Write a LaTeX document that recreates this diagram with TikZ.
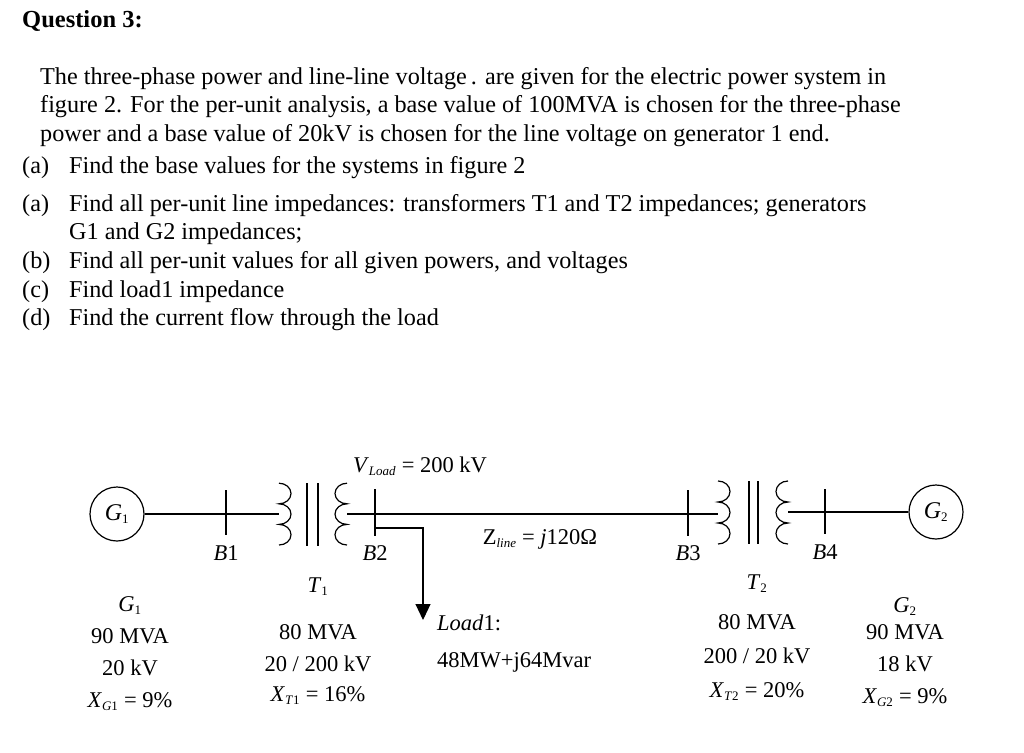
\documentclass[tikz,border=0pt]{standalone}
\usepackage{fontspec}
\setmainfont{Liberation Serif}
\usetikzlibrary{arrows.meta}
\newcommand{\ls}[2]{\textit{#1}\textsubscript{\fontsize{13}{13}\selectfont #2}}
\begin{document}
\begin{tikzpicture}[x=1pt,y=-1pt,
  txt/.style={anchor=base west,inner sep=0,font=\fontsize{24.2}{28}\selectfont},
  ctr/.style={anchor=base,inner sep=0,font=\fontsize{22.5}{26}\selectfont},
  gen/.style={draw,circle,line width=1.2pt,minimum size=54pt,inner sep=0,font=\fontsize{24}{26}\selectfont},
  bus/.style={line width=2.4pt},
  wire/.style={line width=1.1pt},
  coil/.style={line width=1.2pt}]
\useasboundingbox (0,0) rectangle (1024,752);
% text
\node[txt,font=\fontsize{24.5}{28}\selectfont\bfseries] (q) at (22,28) {Question 3:};
\node[txt] (l1) at (40,84) {The three-phase power and line-line voltage\,. are given for the electric power system in};
\node[txt] (l2) at (40,112) {figure 2. For the per-unit analysis, a base value of 100MVA is chosen for the three-phase};
\node[txt] (l3) at (40,141) {power and a base value of 20kV is chosen for the line voltage on generator 1 end.};
\node[txt] (a1l) at (22,173) {(a)};
\node[txt] (a1) at (69,173) {Find the base values for the systems in figure 2};
\node[txt] (a2l) at (22,211) {(a)};
\node[txt] (a2) at (69,211) {Find all per-unit line impedances: transformers T1 and T2 impedances; generators};
\node[txt] (a2b) at (69,239) {G1 and G2 impedances;};
\node[txt] (bl) at (22,268) {(b)};
\node[txt] (b) at (69,268) {Find all per-unit values for all given powers, and voltages};
\node[txt] (cl) at (22,297) {(c)};
\node[txt] (c) at (69,297) {Find load1 impedance};
\node[txt] (dl) at (22,325) {(d)};
\node[txt] (d) at (69,325) {Find the current flow through the load};
% generators
\node[gen] (G1) at (117,514) {\ls{G}{1}};
\node[gen] (G2) at (936,512) {\ls{G}{2}};
% buses
\coordinate (b1t) at (226,490); \coordinate (b1b) at (226,535);
\coordinate (b2t) at (375,489); \coordinate (b2b) at (375,536);
\coordinate (b3t) at (688,490); \coordinate (b3b) at (688,536);
\coordinate (b4t) at (825,489); \coordinate (b4b) at (825,534);
\draw[bus] (b1t) -- (b1b); \draw[bus] (b2t) -- (b2b);
\draw[bus] (b3t) -- (b3b); \draw[bus] (b4t) -- (b4b);
% T1 coils
\coordinate (t1l) at (279,514); \coordinate (t1r) at (347,514);
\draw[coil] (279,545) arc[start angle=90,end angle=-90,x radius=12,y radius=10.3]
  arc[start angle=90,end angle=-90,x radius=12,y radius=10.3]
  arc[start angle=90,end angle=-90,x radius=12,y radius=10.3];
\draw[coil] (307,483) -- (307,546); \draw[coil] (318,483) -- (318,546);
\draw[coil] (347,545) arc[start angle=90,end angle=270,x radius=12,y radius=10.3]
  arc[start angle=90,end angle=270,x radius=12,y radius=10.3]
  arc[start angle=90,end angle=270,x radius=12,y radius=10.3];
% T2 coils
\coordinate (t2l) at (718,514); \coordinate (t2r) at (788,514);
\draw[coil] (718,544) arc[start angle=90,end angle=-90,x radius=12,y radius=10.5]
  arc[start angle=90,end angle=-90,x radius=12,y radius=10.5]
  arc[start angle=90,end angle=-90,x radius=12,y radius=10.5];
\draw[coil] (749,481) -- (749,544); \draw[coil] (758,481) -- (758,544);
\draw[coil] (788,544) arc[start angle=90,end angle=270,x radius=12,y radius=10.5]
  arc[start angle=90,end angle=270,x radius=12,y radius=10.5]
  arc[start angle=90,end angle=270,x radius=12,y radius=10.5];
% wires
\draw[wire] (G1.east) -- (t1l);
\draw[wire] (t1r) -- (718,514);
\draw[wire] (788,512) -- (G2.west);
\coordinate (ld0) at (375,528); \coordinate (ld1) at (423,528); \coordinate (ld2) at (423,620);
\draw[wire,-{Triangle[length=16pt,width=15pt]}] (ld0) -- (ld1) -- (ld2);
% diagram labels
\node[ctr] (vl) at (420,472) {\ls{V}{\textit{Load}} = 200 kV};
\node[ctr] (zl) at (540,544) {Z\textsubscript{\fontsize{13}{13}\selectfont\textit{line}} = \textit{j}120Ω};
\node[ctr] (B1) at (226,560) {\textit{B}1};
\node[ctr] (B2) at (375,560) {\textit{B}2};
\node[ctr] (B3) at (688,560) {\textit{B}3};
\node[ctr] (B4) at (825,559) {\textit{B}4};
% tables
\node[ctr] at (130,611) {\ls{G}{1}};
\node[ctr] at (130,643) {90 MVA};
\node[ctr] at (130,675) {20 kV};
\node[ctr] at (130,707) {\ls{X}{\textit{G}1} = 9\%};
\node[ctr] at (318,592) {\ls{T}{1}};
\node[ctr] at (318,639) {80 MVA};
\node[ctr] at (318,671) {20 / 200 kV};
\node[ctr] at (318,701) {\ls{X}{\textit{T}1} = 16\%};
\node[txt,font=\fontsize{22.5}{26}\selectfont] at (437,630) {\textit{Load}1:};
\node[txt,font=\fontsize{22.5}{26}\selectfont] at (437,667) {48MW+j64Mvar};
\node[ctr] at (757,589) {\ls{T}{2}};
\node[ctr] at (757,629) {80 MVA};
\node[ctr] at (757,663) {200 / 20 kV};
\node[ctr] at (757,697) {\ls{X}{\textit{T}2} = 20\%};
\node[ctr] at (905,612) {\ls{G}{2}};
\node[ctr] at (905,639) {90 MVA};
\node[ctr] at (905,671) {18 kV};
\node[ctr] at (905,703) {\ls{X}{\textit{G}2} = 9\%};
\end{tikzpicture}
\end{document}
